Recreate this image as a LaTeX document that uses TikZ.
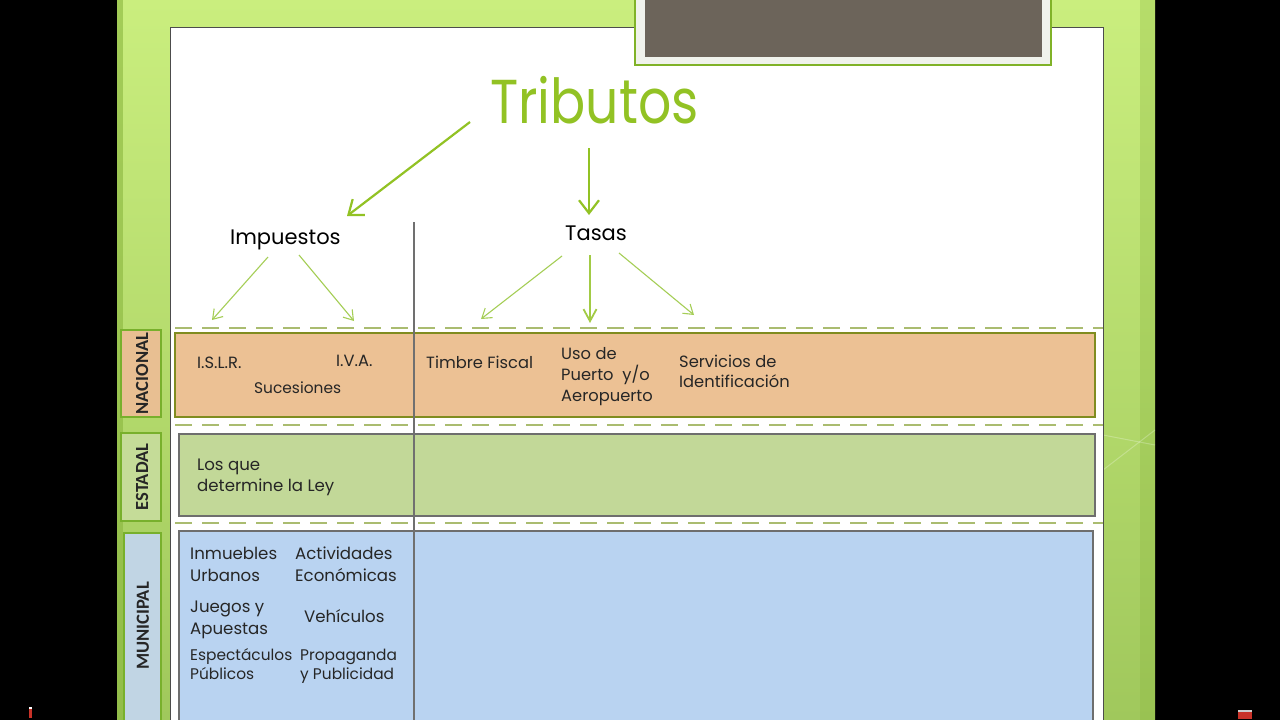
\documentclass[tikz,border=0pt]{standalone}
\usepackage{fontspec}
\setmainfont{Poppins}
\newfontfamily\labfont{Carlito}
\usetikzlibrary{arrows.meta}
\definecolor{tribgreen}{RGB}{146,194,36}
\definecolor{lightarr}{RGB}{165,206,86}
\definecolor{panelTop}{RGB}{202,238,126}
\definecolor{panelBot}{RGB}{160,200,92}
\definecolor{panelDark}{RGB}{138,182,62}
\definecolor{graybox}{RGB}{108,100,90}
\definecolor{frameW}{RGB}{240,242,236}
\definecolor{frameG}{RGB}{128,178,40}
\definecolor{dashc}{RGB}{170,188,112}
\definecolor{vline}{RGB}{112,112,112}
\definecolor{orangeF}{RGB}{236,193,148}
\definecolor{orangeB}{RGB}{128,140,32}
\definecolor{greenF}{RGB}{194,216,152}
\definecolor{blueF}{RGB}{185,211,241}
\definecolor{rowB}{RGB}{110,110,110}
\definecolor{labO}{RGB}{232,191,146}
\definecolor{labG}{RGB}{197,220,152}
\definecolor{labB}{RGB}{193,213,228}
\definecolor{labBorder}{RGB}{120,176,44}
\definecolor{txt}{RGB}{38,38,38}
\definecolor{redmark}{RGB}{200,50,40}
\tikzset{
  bigarr/.style={draw=tribgreen, line width=2.2pt, -{Straight Barb[length=13pt,width=20pt]}},
  smallarr/.style={draw=lightarr, line width=1.1pt, -{Straight Barb[length=9pt,width=12pt]}},
  midarr/.style={draw=tribgreen!85!white, line width=1.8pt, -{Straight Barb[length=12pt,width=13pt]}},
  sep/.style={draw=dashc, line width=1.5pt, dash pattern=on 17pt off 10pt},
  rowbox/.style={line width=1.5pt},
  labbox/.style={draw=labBorder, line width=2pt},
  labtxt/.style={font=\labfont\bfseries\fontsize{18.5}{19}\selectfont, text=txt, rotate=90, inner sep=0pt},
  itm/.style={font=\fontsize{16.3}{17}\selectfont, text=txt, anchor=base west, inner sep=0pt},
  sitm/.style={font=\fontsize{15.4}{16}\selectfont, text=txt, anchor=base west, inner sep=0pt},
  mitm/.style={font=\fontsize{16.6}{17}\selectfont, text=txt, anchor=base west, inner sep=0pt},
  head/.style={font=\fontsize{21}{22}\selectfont, text=black, anchor=base west, inner sep=0pt}
}
\begin{document}
\begin{tikzpicture}[x=1pt,y=-1pt]
\useasboundingbox (0,0) rectangle (1280,720);
% background
\fill[black] (0,0) rectangle (1280,720);
\shade[top color=panelTop, bottom color=panelBot] (117,0) rectangle (1155,720);
\fill[panelDark, opacity=0.6] (117,0) rectangle (123,720);
\fill[panelDark, opacity=0.3] (1140,0) rectangle (1155,720);
\draw[white, opacity=0.25, line width=1pt] (1103,470) -- (1155,430);
\draw[white, opacity=0.25, line width=1pt] (1103,435) -- (1155,445);
% slide
\filldraw[fill=white, draw=black!70, line width=0.8pt] (170,27) rectangle (1103,722);
% top gray box
\filldraw[fill=frameW, draw=frameG, line width=1.5pt] (635,-3) rectangle (1051,65);
\fill[graybox] (645,-3) rectangle (1042,57);

% title
\node[font=\fontsize{62}{62}\selectfont, text=tribgreen, anchor=base west, inner sep=0pt, xscale=0.84] (trib) at (490,123) {Tributos};
\node[head] (imp) at (230,244) {Impuestos};
\node[head] (tas) at (565,240) {Tasas};

% big arrows
\coordinate (b1s) at (470,122); \coordinate (b1e) at (347,216);
\coordinate (b2s) at (589,148); \coordinate (b2e) at (589,215);
\draw[bigarr] (b1s) -- (b1e);
\draw[bigarr] (b2s) -- (b2e);

% small arrows
\coordinate (i1s) at (268,257); \coordinate (i1e) at (212,320);
\coordinate (i2s) at (299,255); \coordinate (i2e) at (354,321);
\coordinate (t1s) at (562,256); \coordinate (t1e) at (481,319);
\coordinate (t2s) at (590,255); \coordinate (t2e) at (590,323);
\coordinate (t3s) at (619,253); \coordinate (t3e) at (694,315);
\draw[smallarr] (i1s) -- (i1e);
\draw[smallarr] (i2s) -- (i2e);
\draw[smallarr] (t1s) -- (t1e);
\draw[midarr] (t2s) -- (t2e);
\draw[smallarr] (t3s) -- (t3e);

% separators
\coordinate (d1s) at (175,328); \coordinate (d1e) at (1103,328);
\coordinate (d2s) at (175,425); \coordinate (d2e) at (1103,425);
\coordinate (d3s) at (175,523); \coordinate (d3e) at (1103,523);
\draw[sep] (d1s) -- (d1e);
\draw[sep] (d2s) -- (d2e);
\draw[sep] (d3s) -- (d3e);

% rows
\filldraw[rowbox, fill=orangeF, draw=orangeB, line width=2pt] (175,333) rectangle (1095,417);
\filldraw[rowbox, fill=greenF, draw=rowB] (179,434) rectangle (1095,516);
\filldraw[rowbox, fill=blueF, draw=rowB] (179,531) rectangle (1093,725);

% vertical divider
\coordinate (vt) at (414,222); \coordinate (vb) at (414,720);
\draw[draw=vline, line width=1.5pt] (vt) -- (vb);

% side labels
\filldraw[labbox, fill=labO] (121,330) rectangle (161,417);
\filldraw[labbox, fill=labG] (121,433) rectangle (161,521);
\filldraw[labbox, fill=labB] (124,533) rectangle (161,725);
\node[labtxt] (lnac) at (142,373.5) {NACIONAL};
\node[labtxt] (lest) at (142,477) {ESTADAL};
\node[labtxt] (lmun) at (143,626) {MUNICIPAL};

% nacional items
\node[itm] (islr) at (197,368) {I.S.L.R.};
\node[itm] (iva) at (336,366) {I.V.A.};
\node[sitm] (suc) at (254,393) {Sucesiones};
\node[itm] (timb) at (426,368) {Timbre Fiscal};
\node[itm] (uso1) at (561,359) {Uso de};
\node[itm] (uso2) at (561,380) {Puerto\ \ y/o};
\node[itm] (uso3) at (561,401) {Aeropuerto};
\node[itm] (serv1) at (679,367) {Servicios de};
\node[itm] (serv2) at (679,387) {Identificación};

% estadal items
\node[mitm] (ley1) at (197,470) {Los que};
\node[mitm] (ley2) at (197,491) {determine la Ley};

% municipal items
\node[mitm] (inm1) at (190,559) {Inmuebles};
\node[mitm] (inm2) at (190,581) {Urbanos};
\node[mitm] (act1) at (295,559) {Actividades};
\node[mitm] (act2) at (295,581) {Económicas};
\node[mitm] (jue1) at (190,612) {Juegos y};
\node[mitm] (jue2) at (190,634) {Apuestas};
\node[mitm] (veh) at (304,622) {Vehículos};
\node[sitm] (esp1) at (190,660) {Espectáculos};
\node[sitm] (esp2) at (190,679) {Públicos};
\node[sitm] (pro1) at (300,660) {Propaganda};
\node[sitm] (pro2) at (300,679) {y Publicidad};

% player marks
\fill[redmark] (29,709) rectangle (32,718);
\fill[white] (29,707) rectangle (32,709);
\fill[redmark] (1238,712) rectangle (1252,719);
\fill[white!80!black] (1238,710) rectangle (1252,712);
\end{tikzpicture}
\end{document}
